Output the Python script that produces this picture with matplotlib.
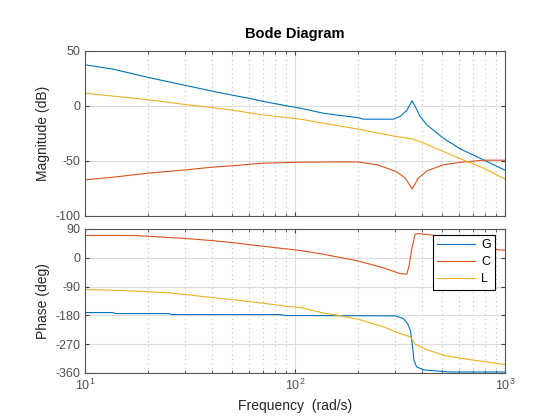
import matplotlib.pyplot as plt
from matplotlib.ticker import LogLocator, NullFormatter

plt.rcParams['font.family'] = ['Liberation Sans', 'DejaVu Sans']
plt.rcParams['axes.unicode_minus'] = False

# magnitude readings (rad/s, dB)
g_mag_w = [10, 13.6, 20, 30, 40.4, 50.5, 60.5, 70.6, 91.3, 105.7, 136, 202, 211, 294, 316, 340,
           361, 373, 394, 424, 508, 611, 789, 1000]
g_mag = [37.3, 33.3, 25.8, 18.6, 13.3, 9.6, 6.8, 4.0, 0.0, -2.1, -6.7, -10.9, -12.1, -12.1, -9.7, -4.2,
         4.5, -0.6, -9.7, -17.3, -29.4, -39.1, -49.1, -58.5]

c_mag_w = [10, 13.6, 20, 30, 40, 50, 70, 106, 150, 200, 246, 303, 335, 361, 386, 424, 508, 620, 789, 1000]
c_mag = [-67.3, -64.8, -61.2, -58.2, -55.8, -54.5, -52.1, -51.2, -51.0, -51.0, -53.6, -59.7, -65.7, -75.5,
         -65.7, -59.1, -53.6, -51.2, -49.4, -49.4]

l_mag_w = [10, 20, 30, 40, 50, 70, 106, 200, 303, 361, 410, 508, 630, 789, 1000]
l_mag = [11.5, 5.5, 1.2, -1.5, -3.9, -8.2, -12.1, -21.2, -27.9, -30.0, -33.9, -41.5, -49.1, -56.6, -66.6]

# phase readings (rad/s, deg)
g_ph_w = [10, 13.5, 14, 25, 26, 85, 90, 300, 328, 343, 354, 361, 368, 379, 410, 470, 550, 1000]
g_ph = [-171.3, -171.3, -174.5, -174.5, -177.6, -177.6, -180.6, -181.6, -190, -205.6, -226.6, -268,
        -320, -341, -350.6, -353.7, -357, -357]

c_ph_w = [10, 17, 20, 30, 40, 50, 60, 70, 91, 106, 136, 202, 264, 316, 340, 348, 361, 373, 386,
          456, 550, 700, 910, 1000]
c_ph = [69.5, 69.4, 67, 60, 53.7, 47.5, 41, 36, 27.5, 22.5, 11, -11, -32, -49.5, -51.6, -28.7, 33.8, 73,
        75.6, 70, 55, 38, 25, 23.4]

l_ph_w = [10, 12, 16, 20, 25, 30, 40, 50, 60, 70, 91, 106, 136, 167, 202, 264, 316, 355, 373, 410,
          508, 630, 789, 1000]
l_ph = [-99.4, -100.5, -103.5, -106.5, -109.5, -115, -124.4, -130.6, -136.9, -142, -151.6, -155.6,
        -172.5, -181.9, -193, -216, -236.9, -247.5, -270, -283.8, -304.7, -315, -324.4, -333.8]

blue = '#0072BD'
red = '#D95319'
yellow = '#EDB120'
axcol = '#262626'

fig = plt.figure(figsize=(5.6, 4.2), dpi=100)
ax1 = fig.add_axes([0.152, 0.486, 0.75, 0.393])
ax2 = fig.add_axes([0.152, 0.112, 0.75, 0.343], sharex=ax1)

ax1.semilogx(g_mag_w, g_mag, color=blue, lw=0.8)
ax1.semilogx(c_mag_w, c_mag, color=red, lw=0.8)
ax1.semilogx(l_mag_w, l_mag, color=yellow, lw=0.8)

ax2.semilogx(g_ph_w, g_ph, color=blue, lw=0.8, label='G')
ax2.semilogx(c_ph_w, c_ph, color=red, lw=0.8, label='C')
ax2.semilogx(l_ph_w, l_ph, color=yellow, lw=0.8, label='L')

ax1.set_xlim(10, 1000)
ax1.set_ylim(-100, 50)
ax1.set_yticks([-100, -50, 0, 50])
ax2.set_ylim(-360, 90)
ax2.set_yticks([-360, -270, -180, -90, 0, 90])

for ax in (ax1, ax2):
    ax.xaxis.set_major_locator(LogLocator(base=10))
    ax.xaxis.set_minor_locator(LogLocator(base=10, subs=range(2, 10)))
    ax.xaxis.set_minor_formatter(NullFormatter())
    ax.grid(True, which='major', color='#dcdcdc', lw=0.8, ls='-')
    ax.grid(True, which='minor', axis='x', color='#c0c0c0', lw=0.8, ls=(0, (1, 3)))
    ax.set_axisbelow(True)
    ax.tick_params(which='both', direction='in', top=True, right=True, colors='#404040',
                   labelcolor='#505050', labelsize=9)
    ax.tick_params(which='major', length=3)
    ax.tick_params(which='minor', length=2)
    for s in ax.spines.values():
        s.set_color('#555555')
        s.set_linewidth(0.8)

plt.setp(ax1.get_xticklabels(), visible=False)

ax1.set_ylabel('Magnitude (dB)', fontsize=10, color=axcol)
ax2.set_ylabel('Phase (deg)', fontsize=10, color=axcol)
ax2.set_xlabel('Frequency  (rad/s)', fontsize=10, color=axcol)
ax1.set_title('Bode Diagram', fontsize=10.5, fontweight='bold', color='black', pad=9)

leg = ax2.legend(loc='upper right', bbox_to_anchor=(0.976, 0.958), borderaxespad=0, fontsize=9,
                 frameon=True, fancybox=False, edgecolor='black', framealpha=1, handlelength=3.0,
                 borderpad=0.35, labelspacing=0.4, handletextpad=0.5)
leg.get_frame().set_linewidth(0.8)
for h in leg.get_lines():
    h.set_linewidth(0.8)

fig.savefig('out.png', dpi=100)
